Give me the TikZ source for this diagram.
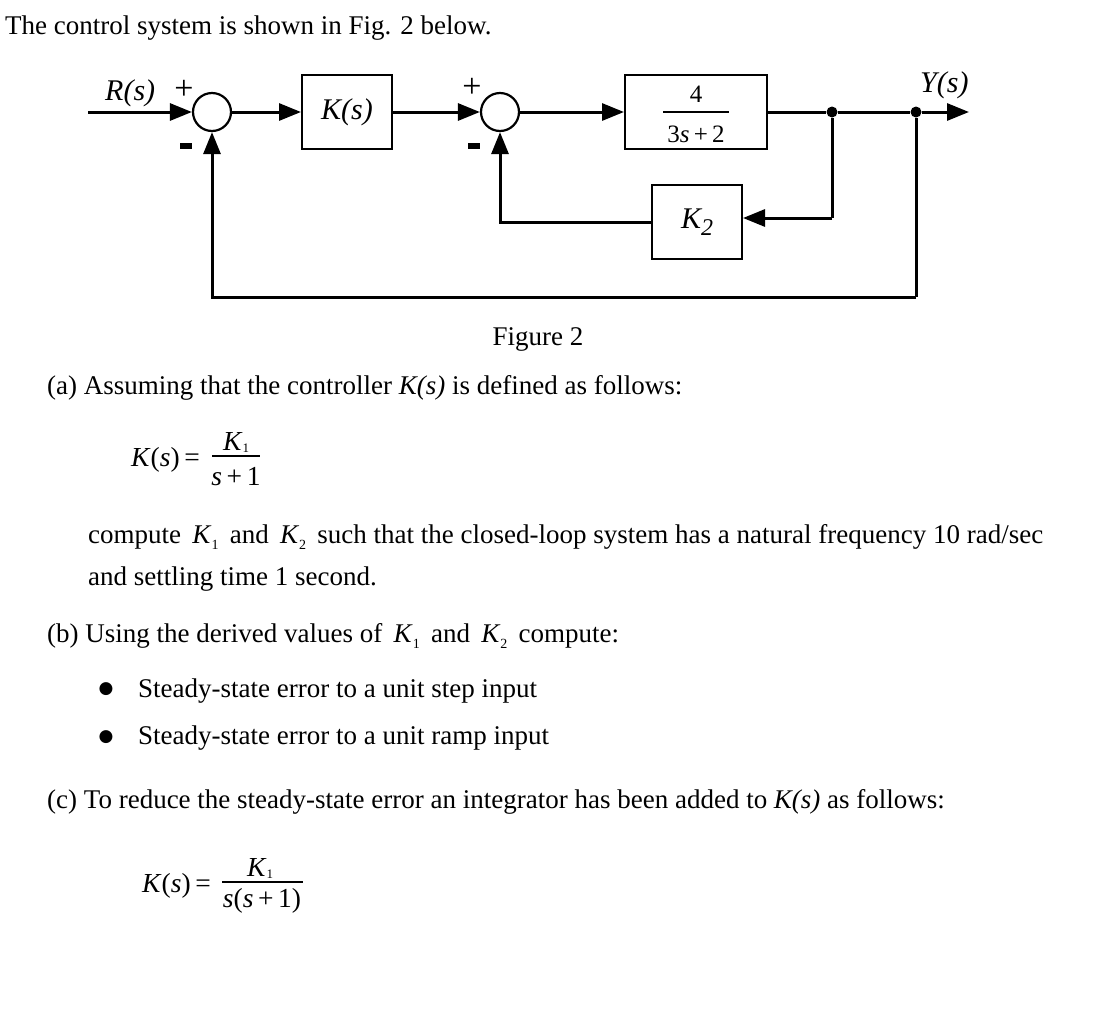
\documentclass[tikz,border=0pt]{standalone}
\usepackage{fontspec}
\setmainfont{Liberation Serif}
\newfontfamily\sansf{Liberation Sans}
\newfontfamily\dejavu{DejaVu Sans}
\usetikzlibrary{arrows.meta}
\newcommand{\sbs}[1]{\raisebox{-6pt}{\fontsize{14}{14}\selectfont #1}}
\newcommand{\esb}[1]{\raisebox{-2pt}{\fontsize{13}{13}\selectfont #1}}
\begin{document}
\begin{tikzpicture}[x=1pt,y=-1pt,
  txt/.style={font=\fontsize{27}{32}\selectfont, inner sep=0pt, anchor=base west},
  eqt/.style={font=\fontsize{27.5}{30}\selectfont, inner sep=0pt},
  lbl/.style={font=\fontsize{30}{34}\selectfont\itshape, inner sep=0pt},
  sgn/.style={font=\fontsize{34}{36}\selectfont, inner sep=0pt},
  mns/.style={fill, minimum width=12pt, minimum height=5.5pt, inner sep=0pt},
  wire/.style={line width=3pt},
  arr/.style={wire, -{Triangle[length=22pt,width=17pt]}},
  sumc/.style={circle, draw, line width=2.2pt, minimum size=38pt, inner sep=0pt, fill=white},
  blk/.style={draw, line width=2pt, inner sep=0pt},
  dot/.style={circle, fill, minimum size=11pt, inner sep=0pt}]
\useasboundingbox (0,0) rectangle (1114,1010);

% ---------------- diagram ----------------
\coordinate (in) at (88,112);
\node[sumc] (s1) at (212,112) {};
\node[blk, minimum width=90pt, minimum height=74pt] (K) at (347,112) {};
\node[lbl] at (K.center) {K(s)};
\node[sumc] (s2) at (500,112) {};
\node[blk, minimum width=142pt, minimum height=74pt] (G) at (696,112) {};
\node[dot] (d1) at (832,112) {};
\node[dot] (d2) at (916,112) {};
\coordinate (out) at (969,112);
\node[blk, minimum width=90pt, minimum height=74pt] (K2) at (697,222) {};
\node[lbl, anchor=center] at (K2.center) {K\raisebox{-7pt}{\fontsize{24}{24}\selectfont 2}};
\coordinate (c1) at (916,297);
\coordinate (c2) at (832,218);

% fraction 4/(3s+2)
\node[eqt, font=\fontsize{25}{28}\selectfont, anchor=base] (gn) at (696,102) {4};
\node[eqt, font=\fontsize{25}{28}\selectfont, anchor=base] (gd) at (696,142) {3\textit{s}\,+\,2};
\draw[line width=1.3pt] (663,112) -- (729,112);

\draw[arr] (in) -- (s1);
\draw[arr] (s1) -- (K);
\draw[arr] (K) -- (s2);
\draw[arr] (s2) -- (G);
\draw[wire] (G) -- (d1) -- (d2);
\draw[arr] (d2) -- (out);
\draw[wire] (d1) -- (c2);
\draw[arr] (c2) -- ([yshift=4pt]K2.east);
\draw[arr] (K2.west) -| (s2.south);
\draw[wire] (d2) -- (c1);
\draw[arr] (c1) -| (s1.south);

\node[lbl, anchor=base west] at (105,100) {R(s)};
\node[lbl, anchor=base west] at (920,92) {Y(s)};
\node[sgn] at (184,90) {+};
\node[mns] (m1) at (186,146) {};
\node[sgn] at (472,88) {+};
\node[mns] (m2) at (474,146) {};

% ---------------- text ----------------
\node[txt] (t1) at (5,34) {The control system is shown in Fig. 2 below.};
\node[txt, anchor=base] (t2) at (538,345) {Figure 2};
\node[txt] (t3) at (47,394) {(a) Assuming that the controller \textit{K(s)} is defined as follows:};

\node[eqt, anchor=base west] (e1l) at (131,466) {\textit{K}(\textit{s})\,=};
\draw[line width=1.3pt] (212,456) -- (260,456);
\node[eqt, anchor=base west] (e1n) at (223,450) {\textit{K}\esb{1}};
\node[eqt, anchor=base] (e1d) at (236,485) {\textit{s}\,+\,1};

\node[txt] (t4) at (88,543) {compute \,\textit{K}\sbs{1}\, and \,\textit{K}\sbs{2}\, such that the closed-loop system has a natural frequency 10 rad/sec};
\node[txt] (t5) at (88,585) {and settling time 1 second.};
\node[txt] (t6) at (47,642) {(b) Using the derived values of \,\textit{K}\sbs{1}\, and \,\textit{K}\sbs{2}\, compute:};
\node[font=\dejavu\fontsize{17}{17}\selectfont, inner sep=0pt] (b1) at (106,689) {●};
\node[txt] (t7) at (138,697) {Steady-state error to a unit step input};
\node[font=\dejavu\fontsize{17}{17}\selectfont, inner sep=0pt] (b2) at (106,737) {●};
\node[txt] (t8) at (138,744) {Steady-state error to a unit ramp input};
\node[txt] (t9) at (47,808) {(c) To reduce the steady-state error an integrator has been added to \textit{K(s)} as follows:};

\node[eqt, anchor=base west] (e2l) at (142,892) {\textit{K}(\textit{s})\,=};
\draw[line width=1.3pt] (222,882) -- (303,882);
\node[eqt, anchor=base west] (e2n) at (247,876) {\textit{K}\esb{1}};
\node[eqt, anchor=base] (e2d) at (262,907) {\textit{s}(\textit{s}\,+\,1)};
\end{tikzpicture}
\end{document}
